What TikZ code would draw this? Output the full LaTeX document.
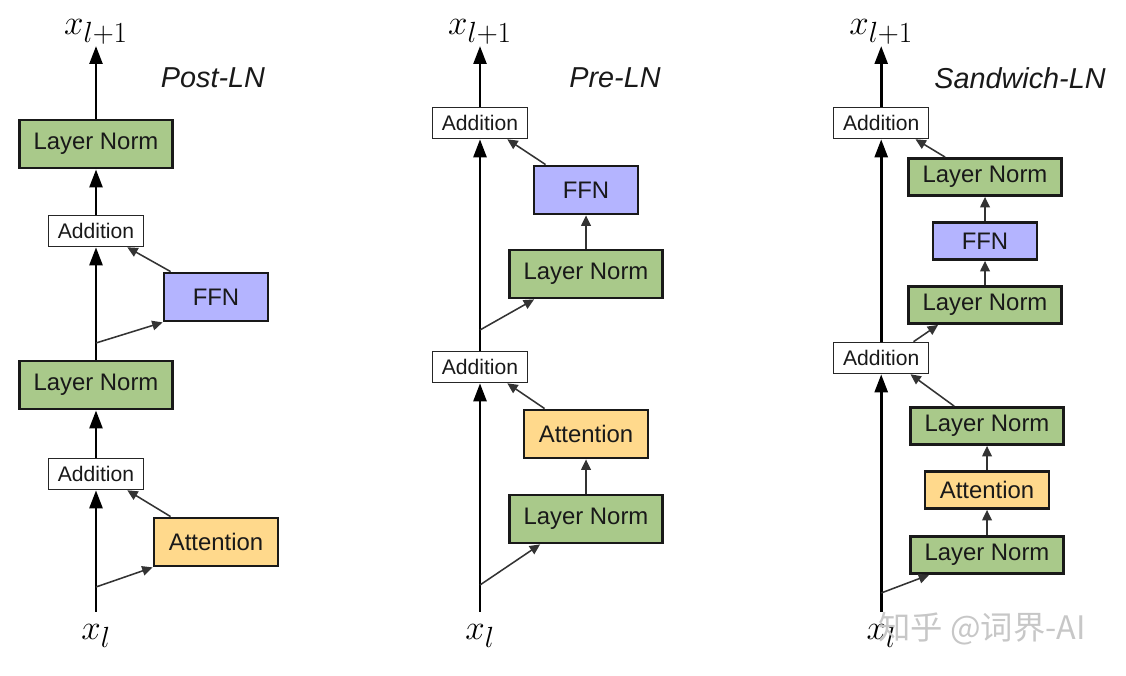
\documentclass[tikz,border=0pt]{standalone}
\usepackage{amsmath}
\usepackage{fontspec}
\setsansfont{Liberation Sans}
\newfontfamily\cjkfont{Noto Sans CJK SC}
\usepackage{xcolor}
\usetikzlibrary{arrows.meta,calc}
\definecolor{lngreen}{RGB}{169,201,138}
\definecolor{ffnblue}{RGB}{180,180,255}
\definecolor{attorange}{RGB}{255,217,140}

\begin{document}
\begin{tikzpicture}[
        box/.style={draw=black!90,line width=2pt,minimum height=1.2cm,inner sep=2pt,
            font=\sffamily\fontsize{17}{17}\selectfont,text=black!90},
        ln/.style={box,fill=lngreen,minimum width=3.825cm},
        ffn/.style={box,fill=ffnblue,minimum width=2.6cm},
        att/.style={box,fill=attorange,minimum width=3.1cm},
        small/.style={minimum height=0.925cm},
        add/.style={draw=black!85,line width=1.1pt,fill=white,minimum width=2.375cm,
            minimum height=0.775cm,inner sep=0pt,font=\sffamily\fontsize{15}{15}\selectfont,text=black!90},
        vecout/.style={font=\fontsize{31}{33}\selectfont,inner sep=1pt,anchor=south},
        vecin/.style={font=\fontsize{31}{33}\selectfont,inner sep=1pt,anchor=north,outer ysep=8pt},
        title/.style={font=\sffamily\itshape\fontsize{20.5}{22}\selectfont,text=black!90},
        main/.style={line width=2.1pt,-{Triangle[length=4.5mm,width=3.2mm]}},
        side/.style={line width=1.1pt,black!80,-{Triangle[length=2.6mm,width=2.4mm]}}
    ]
        \useasboundingbox (0,0) rectangle (28.15,16.9);

        \node[vecout] (postout) at (2.4,15.75) {$x_{l+1}$};
        \node[title] (posttitle) at (5.325,14.95) {Post-LN};
        \node[ln] (postln2) at (2.4,13.3) {Layer Norm};
        \node[add] (postadd2) at (2.4,11.125) {Addition};
        \node[ffn] (postffn) at (5.4,9.475) {FFN};
        \node[ln] (postln1) at (2.4,7.275) {Layer Norm};
        \node[add] (postadd1) at (2.4,5.05) {Addition};
        \node[att] (postatt) at (5.4,3.35) {Attention};
        \node[vecin] (postin) at (2.4,1.6) {$x_l$};
        \coordinate (postb1) at (2.4,2.225);
        \coordinate (postb2) at (2.4,8.325);
        \draw[main] (postin) -- (postadd1);
        \draw[main] (postadd1) -- (postln1);
        \draw[main] (postln1) -- (postadd2);
        \draw[main] (postadd2) -- (postln2);
        \draw[main] (postln2) -- (postout);
        \draw[side] (postb1) -- (postatt.south west);
        \draw[side] ($(postatt.north west)+(0.45,0)$) -- ($(postadd1.south east)+(-0.425,0)$);
        \draw[side] (postb2) -- (postffn.south west);
        \draw[side] ($(postffn.north west)+(0.2,0)$) -- ($(postadd2.south east)+(-0.425,0)$);

        \node[vecout] (preout) at (12,15.75) {$x_{l+1}$};
        \node[title] (pretitle) at (15.375,14.95) {Pre-LN};
        \node[add] (preadd2) at (12,13.825) {Addition};
        \node[ffn] (preffn) at (14.65,12.15) {FFN};
        \node[ln] (preln2) at (14.65,10.05) {Layer Norm};
        \node[add] (preadd1) at (12,7.725) {Addition};
        \node[att] (preatt) at (14.65,6.05) {Attention};
        \node[ln] (preln1) at (14.65,3.925) {Layer Norm};
        \node[vecin] (prein) at (12,1.6) {$x_l$};
        \coordinate (preb1) at (12,2.275);
        \coordinate (preb2) at (12,8.65);
        \draw[main] (prein) -- (preadd1);
        \draw[main] (preadd1) -- (preadd2);
        \draw[main] (preadd2) -- (preout);
        \draw[side] (preb1) -- ($(preln1.south west)+(0.8,0)$);
        \draw[side] (preln1) -- (preatt);
        \draw[side] ($(preatt.north west)+(0.55,0)$) -- ($(preadd1.south east)+(-0.525,0)$);
        \draw[side] (preb2) -- ($(preln2.south west)+(0.65,0)$);
        \draw[side] (preln2) -- (preffn);
        \draw[side] ($(preffn.north west)+(0.325,0)$) -- ($(preadd2.south east)+(-0.525,0)$);

        \node[vecout] (sandout) at (22.03,15.75) {$x_{l+1}$};
        \node[title] (sandtitle) at (25.5,14.95) {Sandwich-LN};
        \node[add] (sandadd2) at (22.03,13.825) {Addition};
        \node[ln,small] (sandln4) at (24.625,12.475) {Layer Norm};
        \node[ffn,small] (sandffn) at (24.625,10.875) {FFN};
        \node[ln,small] (sandln3) at (24.625,9.275) {Layer Norm};
        \node[add] (sandadd1) at (22.03,7.95) {Addition};
        \node[ln,small] (sandln2) at (24.675,6.25) {Layer Norm};
        \node[att,small] (sandatt) at (24.675,4.65) {Attention};
        \node[ln,small] (sandln1) at (24.675,3.025) {Layer Norm};
        \node[vecin] (sandin) at (22.03,1.6) {$x_l$};
        \coordinate (sandb1) at (22.03,2.075);
        \draw[main] (sandin) -- (sandadd1);
        \draw[main] (sandadd1) -- (sandadd2);
        \draw[main] (sandadd2) -- (sandout);
        \draw[side] (sandb1) -- ($(sandln1.south west)+(0.5,0)$);
        \draw[side] (sandln1) -- (sandatt);
        \draw[side] (sandatt) -- (sandln2);
        \draw[side] ($(sandln2.north west)+(1.125,0)$) -- ($(sandadd1.south east)+(-0.475,0)$);
        \draw[side] ($(sandadd1.north east)+(-0.4,0)$) -- ($(sandln3.south west)+(0.775,0)$);
        \draw[side] (sandln3) -- (sandffn);
        \draw[side] (sandffn) -- (sandln4);
        \draw[side] ($(sandln4.north west)+(0.95,0)$) -- ($(sandadd2.south east)+(-0.35,0)$);

        \node[text=black!22,font=\cjkfont\fontsize{23}{23}\selectfont] (mark) at (24.55,1.175) {知乎 @词界-AI};
    \end{tikzpicture}
\end{document}
